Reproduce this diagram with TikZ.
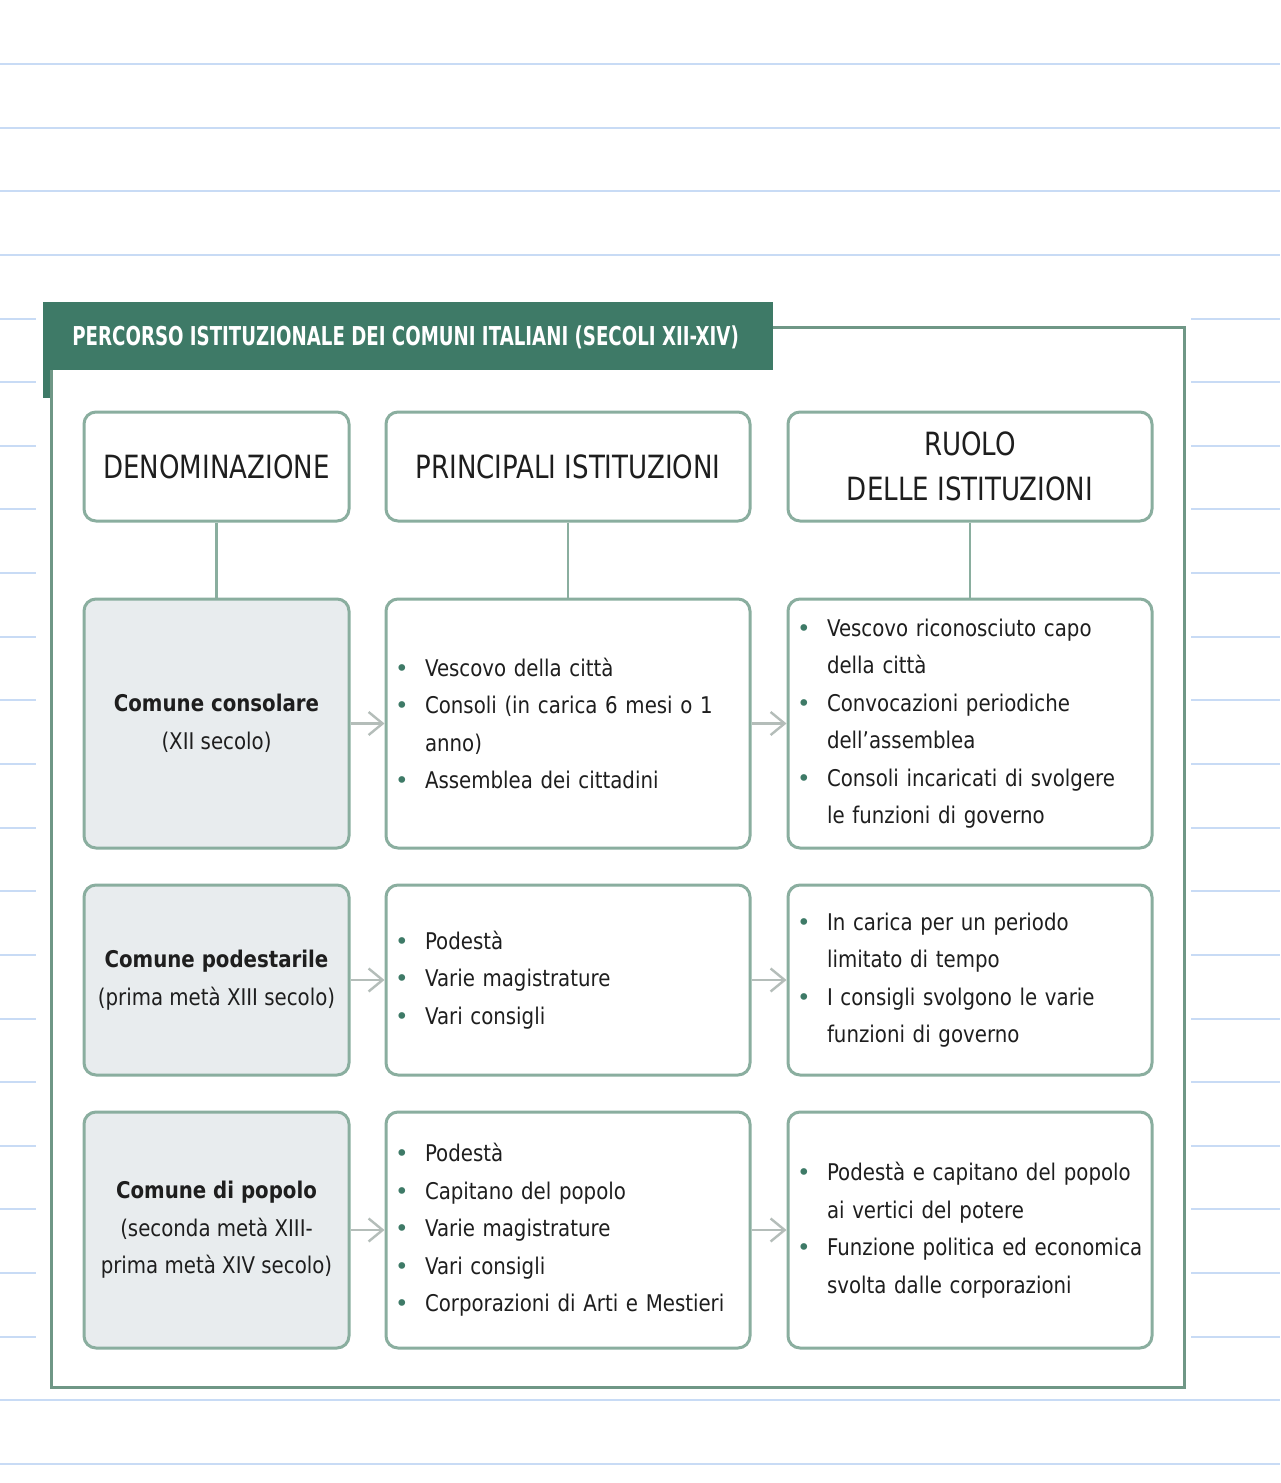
\documentclass[tikz,border=0pt]{standalone}
\usepackage{fontspec}
\setmainfont{DejaVu Sans}[FakeStretch=0.86]
\newfontfamily\headfont{DejaVu Sans}[FakeStretch=0.815]
\newfontfamily\titlefont{DejaVu Sans}[FakeStretch=0.70]
\newfontfamily\bulfont{DejaVu Sans}
\usetikzlibrary{arrows.meta}
\definecolor{bgline}{HTML}{C8DBF5}
\definecolor{titlegreen}{HTML}{3E7A67}
\definecolor{framec}{HTML}{6F9786}
\definecolor{boxc}{HTML}{8AAE9F}
\definecolor{fillc}{HTML}{E8ECEE}
\definecolor{arrc}{HTML}{B4BDB9}
\definecolor{bulc}{HTML}{3E7A67}
\definecolor{txt}{HTML}{1E1E1E}
\newcommand\bitem[1]{\makebox[15pt][l]{{\bulfont\textcolor{bulc}{•}}}#1}
\newcommand\bcont[1]{\hspace*{15pt}#1}
\begin{document}
\begin{tikzpicture}[x=0.5pt,y=-0.5pt,
  bgl/.style={draw=bgline,line width=1pt},
  boxbase/.style={draw=boxc,line width=1.5pt,rounded corners=6pt,fill=white,text=txt,inner ysep=0pt},
  headbox/.style={boxbase,font=\headfont\fontsize{16}{22.5}\selectfont,align=center},
  namebox/.style={boxbase,fill=fillc,font=\fontsize{11.5}{18.75}\selectfont,align=center,minimum width=132.5pt},
  listbox/.style={boxbase,font=\fontsize{11.5}{18.75}\selectfont,inner xsep=4.5pt,text width=173pt,align=left,minimum width=182pt},
  vlink/.style={draw=boxc,line width=1.2pt},
  arr/.style={draw=arrc,line width=1.2pt,-{Straight Barb[length=7pt,width=11.5pt,line width=1.2pt]}}]
\useasboundingbox (0,0) rectangle (1280,1483);
\fill[white] (0,0) rectangle (1280,1483);
% background ruled lines
\foreach \k in {0,...,22}{
  \pgfmathsetmacro{\yy}{64+63.636*\k}
  \ifnum\k<4
    \draw[bgl] (0,\yy) -- (1280,\yy);
  \else\ifnum\k>20
    \draw[bgl] (0,\yy) -- (1280,\yy);
  \else
    \draw[bgl] (0,\yy) -- (36,\yy);
    \draw[bgl] (1191,\yy) -- (1280,\yy);
  \fi\fi
}
% frame
\draw[framec,line width=1.5pt] (773,327) -- (1184,327) -- (1184,1387) -- (51,1387) -- (51,370);
\fill[titlegreen] (43,302) rectangle (773,370);
\fill[titlegreen] (43,370) rectangle (50,398);
\node[anchor=west,inner sep=0pt,text=white,font=\titlefont\bfseries\fontsize{13}{15}\selectfont] (title) at (72,337) {PERCORSO ISTITUZIONALE DEI COMUNI ITALIANI (SECOLI XII-XIV)};
% headers
\node[headbox,minimum width=132.5pt,minimum height=54.5pt] (h1) at (216.5,466.5) {DENOMINAZIONE};
\node[headbox,minimum width=182pt,minimum height=54.5pt] (h2) at (568,466.5) {PRINCIPALI ISTITUZIONI};
\node[headbox,minimum width=182pt,minimum height=54.5pt] (h3) at (970,466.5) {RUOLO\\DELLE ISTITUZIONI};
% row 1
\node[namebox,minimum height=124.5pt] (a1) at (216.5,723.5) {\textbf{Comune consolare}\\(XII secolo)};
\node[listbox,minimum height=124.5pt] (b1) at (568,723.5) {\bitem{Vescovo della città}\\\bitem{Consoli (in carica 6 mesi o 1}\\\bcont{anno)}\\\bitem{Assemblea dei cittadini}};
\node[listbox,minimum height=124.5pt] (c1) at (970,723.5) {\bitem{Vescovo riconosciuto capo}\\\bcont{della città}\\\bitem{Convocazioni periodiche}\\\bcont{dell’assemblea}\\\bitem{Consoli incaricati di svolgere}\\\bcont{le funzioni di governo}};
% row 2
\node[namebox,minimum height=95pt] (a2) at (216.5,980) {\textbf{Comune podestarile}\\(prima metà XIII secolo)};
\node[listbox,minimum height=95pt] (b2) at (568,980) {\bitem{Podestà}\\\bitem{Varie magistrature}\\\bitem{Vari consigli}};
\node[listbox,minimum height=95pt] (c2) at (970,980) {\bitem{In carica per un periodo}\\\bcont{limitato di tempo}\\\bitem{I consigli svolgono le varie}\\\bcont{funzioni di governo}};
% row 3
\node[namebox,minimum height=118pt] (a3) at (216.5,1230) {\textbf{Comune di popolo}\\(seconda metà XIII-\\prima metà XIV secolo)};
\node[listbox,minimum height=118pt] (b3) at (568,1230) {\bitem{Podestà}\\\bitem{Capitano del popolo}\\\bitem{Varie magistrature}\\\bitem{Vari consigli}\\\bitem{Corporazioni di Arti e Mestieri}};
\node[listbox,minimum height=118pt] (c3) at (970,1230) {\bitem{Podestà e capitano del popolo}\\\bcont{ai vertici del potere}\\\bitem{Funzione politica ed economica}\\\bcont{svolta dalle corporazioni}};
% connectors
\draw[vlink] (h1.south) -- (a1.north);
\draw[vlink] (h2.south) -- (b1.north);
\draw[vlink] (h3.south) -- (c1.north);
\draw[arr] (a1.east) -- (b1.west);
\draw[arr] (b1.east) -- (c1.west);
\draw[arr] (a2.east) -- (b2.west);
\draw[arr] (b2.east) -- (c2.west);
\draw[arr] (a3.east) -- (b3.west);
\draw[arr] (b3.east) -- (c3.west);
\end{tikzpicture}
\end{document}
